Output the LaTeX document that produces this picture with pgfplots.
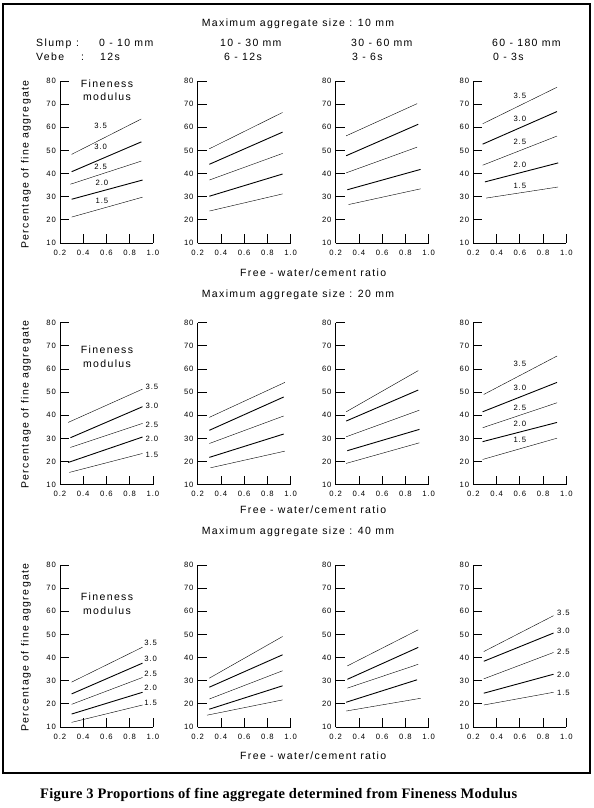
\documentclass[border=0pt]{standalone}
\usepackage{pgfplots}
\pgfplotsset{compat=1.18}
\usepackage{fontspec}
\setmainfont{Liberation Sans}
\newfontfamily\lab[LetterSpace=13]{Liberation Sans}
\newfontfamily\tck[LetterSpace=12]{Liberation Sans}
\newfontfamily\capf[LetterSpace=2]{Liberation Serif}
\newcommand{\Lf}{\lab\fontsize{10.5bp}{12bp}\selectfont}
\newcommand{\Tf}{\tck\fontsize{7.7bp}{8.5bp}\selectfont}
\tikzset{fm/.style={font=\Tf, inner sep=0pt}}
\pgfplotsset{
  panel/.style={
    scale only axis, width=93bp, height=162bp,
    xmin=0.2, xmax=1.0, ymin=10, ymax=80,
    axis x line=bottom, axis y line=left,
    axis line style={-, line width=0.9bp, black},
    tick align=inside, major tick length=9bp,
    tick style={line width=0.9bp, black},
    xtick={0.2,0.4,0.6,0.8,1}, xticklabels={0.2,0.4,0.6,0.8,1.0},
    ytick={10,20,30,40,50,60,70,80}, yticklabels={10,20,30,40,50,60,70,80},
    xticklabel style={font=\Tf, inner sep=0pt, yshift=-6.5bp},
    yticklabel style={font=\Tf, inner sep=0pt, xshift=-4bp},
    clip=false,
    cycle list={{black, line width=0.9bp}},
    no markers,
    anchor=south west,
  },
}
\begin{document}
\begin{tikzpicture}
\begin{scope}[x=1bp,y=1bp]
\path[use as bounding box] (0,0) rectangle (594,808);
\draw[line width=1.2bp] (3,35) rectangle (590,804);

% ---------- headers ----------
\node[anchor=base, font=\Lf] at (298,781.5) {Maximum aggregate size : 10 mm};
\node[anchor=base west, font=\Lf, inner sep=0pt] at (36,761.5) {Slump};
\node[anchor=base west, font=\Lf, inner sep=0pt] at (76,761.5) {:};
\node[anchor=base west, font=\Lf, inner sep=0pt] at (99,761.5) {0 - 10 mm};
\node[anchor=base west, font=\Lf, inner sep=0pt] at (36,747) {Vebe};
\node[anchor=base west, font=\Lf, inner sep=0pt] at (81,747) {:};
\node[anchor=base west, font=\Lf, inner sep=0pt] at (100,747) {12s};
\node[anchor=base west, font=\Lf, inner sep=0pt] at (220,761.5) {10 - 30 mm};
\node[anchor=base west, font=\Lf, inner sep=0pt] at (224,747) {6 - 12s};
\node[anchor=base west, font=\Lf, inner sep=0pt] at (351,761.5) {30 - 60 mm};
\node[anchor=base west, font=\Lf, inner sep=0pt] at (352,747) {3 - 6s};
\node[anchor=base west, font=\Lf, inner sep=0pt] at (492,761.5) {60 - 180 mm};
\node[anchor=base west, font=\Lf, inner sep=0pt] at (493,747) {0 - 3s};

\node[anchor=base, font=\Lf] at (298,510.5) {Maximum aggregate size : 20 mm};
\node[anchor=base, font=\Lf] at (298,273) {Maximum aggregate size : 40 mm};

\node[anchor=base west, font=\Lf, inner sep=0pt] at (240,531) {Free - water/cement ratio};
\node[anchor=base west, font=\Lf, inner sep=0pt] at (240,294) {Free - water/cement ratio};
\node[anchor=base west, font=\Lf, inner sep=0pt] at (240,48) {Free - water/cement ratio};

\node[rotate=90, font=\Lf] at (26,643.5) {Percentage of fine aggregate};
\node[rotate=90, font=\Lf] at (26,403.5) {Percentage of fine aggregate};
\node[rotate=90, font=\Lf] at (26,160.5) {Percentage of fine aggregate};

\node[anchor=base, font=\Lf] at (107,720.7) {Fineness};
\node[anchor=base, font=\Lf] at (107,707.3) {modulus};
\node[anchor=base, font=\Lf] at (107,454) {Fineness};
\node[anchor=base, font=\Lf] at (107,440.7) {modulus};
\node[anchor=base, font=\Lf] at (107,207) {Fineness};
\node[anchor=base, font=\Lf] at (107,193) {modulus};

\node[anchor=base west, inner sep=0pt, font={\capf\bfseries\fontsize{14.5bp}{16bp}\selectfont}] at (40,9) {Figure 3 Proportions of fine aggregate determined from Fineness Modulus};
\end{scope}

% ---------- row 1: 10 mm ----------
\begin{axis}[panel, at={(60bp,565bp)}]
\addplot coordinates {(0.3,48.3) (0.9,63.6)};
\addplot coordinates {(0.3,40.8) (0.9,53.7)};
\addplot coordinates {(0.29,35.4) (0.9,45.4)};
\addplot coordinates {(0.3,28.9) (0.91,37.2)};
\addplot coordinates {(0.3,21.2) (0.91,29.8)};
\node[fm] at (axis cs:0.55,60.5) {3.5};
\node[fm] at (axis cs:0.55,51.6) {3.0};
\node[fm] at (axis cs:0.55,43.0) {2.5};
\node[fm] at (axis cs:0.56,36.1) {2.0};
\node[fm] at (axis cs:0.56,28.2) {1.5};
\end{axis}
\begin{axis}[panel, at={(197.7bp,565bp)}]
\addplot coordinates {(0.3,50.7) (0.93,66.4)};
\addplot coordinates {(0.3,44.0) (0.93,57.9)};
\addplot coordinates {(0.3,37.2) (0.93,48.7)};
\addplot coordinates {(0.3,30.2) (0.93,39.8)};
\addplot coordinates {(0.3,23.8) (0.93,31.2)};
\end{axis}
\begin{axis}[panel, at={(335.7bp,565bp)}]
\addplot coordinates {(0.29,56.3) (0.9,70.2)};
\addplot coordinates {(0.29,47.7) (0.91,61.3)};
\addplot coordinates {(0.29,40.3) (0.9,51.4)};
\addplot coordinates {(0.3,33.0) (0.93,41.8)};
\addplot coordinates {(0.31,26.6) (0.93,33.4)};
\end{axis}
\begin{axis}[panel, at={(473.3bp,565bp)}]
\addplot coordinates {(0.28,61.5) (0.92,77.3)};
\addplot coordinates {(0.28,52.7) (0.92,66.8)};
\addplot coordinates {(0.28,43.6) (0.92,56.2)};
\addplot coordinates {(0.3,36.4) (0.93,44.6)};
\addplot coordinates {(0.31,29.4) (0.93,34.2)};
\node[fm] at (axis cs:0.6,73.5) {3.5};
\node[fm] at (axis cs:0.6,63.5) {3.0};
\node[fm] at (axis cs:0.6,53.7) {2.5};
\node[fm] at (axis cs:0.6,43.7) {2.0};
\node[fm] at (axis cs:0.6,34.7) {1.5};
\end{axis}

% ---------- row 2: 20 mm ----------
\begin{axis}[panel, at={(60bp,323.3bp)}]
\addplot coordinates {(0.27,36.9) (0.91,51.3)};
\addplot coordinates {(0.29,30.3) (0.91,43.7)};
\addplot coordinates {(0.29,26.1) (0.91,36.5)};
\addplot coordinates {(0.27,19.6) (0.91,30.6)};
\addplot coordinates {(0.28,15.3) (0.91,23.5)};
\node[fm, anchor=west] at (axis cs:0.935,52.3) {3.5};
\node[fm, anchor=west] at (axis cs:0.935,44.0) {3.0};
\node[fm, anchor=west] at (axis cs:0.935,36.0) {2.5};
\node[fm, anchor=west] at (axis cs:0.935,29.7) {2.0};
\node[fm, anchor=west] at (axis cs:0.935,22.8) {1.5};
\end{axis}
\begin{axis}[panel, at={(197.7bp,323.3bp)}]
\addplot coordinates {(0.3,39.1) (0.95,54.2)};
\addplot coordinates {(0.3,33.5) (0.94,47.9)};
\addplot coordinates {(0.3,27.8) (0.94,39.7)};
\addplot coordinates {(0.3,21.8) (0.94,31.9)};
\addplot coordinates {(0.31,17.3) (0.95,24.5)};
\end{axis}
\begin{axis}[panel, at={(335.7bp,323.3bp)}]
\addplot coordinates {(0.29,41.5) (0.91,59.3)};
\addplot coordinates {(0.29,37.5) (0.91,50.9)};
\addplot coordinates {(0.29,30.7) (0.92,42.2)};
\addplot coordinates {(0.3,24.7) (0.92,33.9)};
\addplot coordinates {(0.29,19.2) (0.92,28.1)};
\end{axis}
\begin{axis}[panel, at={(473.3bp,323.3bp)}]
\addplot coordinates {(0.29,49.0) (0.92,65.6)};
\addplot coordinates {(0.28,41.5) (0.92,54.2)};
\addplot coordinates {(0.28,34.6) (0.92,45.4)};
\addplot coordinates {(0.28,28.6) (0.92,36.9)};
\addplot coordinates {(0.28,20.9) (0.92,30.1)};
\node[fm] at (axis cs:0.6,62.4) {3.5};
\node[fm] at (axis cs:0.6,52.0) {3.0};
\node[fm] at (axis cs:0.6,43.0) {2.5};
\node[fm] at (axis cs:0.6,36.5) {2.0};
\node[fm] at (axis cs:0.6,29.3) {1.5};
\end{axis}

% ---------- row 3: 40 mm ----------
\begin{axis}[panel, at={(60bp,81bp)}]
\addplot coordinates {(0.3,29.4) (0.91,44.5)};
\addplot coordinates {(0.3,24.3) (0.91,37.6)};
\addplot coordinates {(0.3,19.8) (0.91,31.4)};
\addplot coordinates {(0.3,15.6) (0.91,25.0)};
\addplot coordinates {(0.3,12.0) (0.91,19.5)};
\node[fm, anchor=west] at (axis cs:0.925,46.5) {3.5};
\node[fm, anchor=west] at (axis cs:0.925,39.3) {3.0};
\node[fm, anchor=west] at (axis cs:0.925,32.8) {2.5};
\node[fm, anchor=west] at (axis cs:0.925,26.8) {2.0};
\node[fm, anchor=west] at (axis cs:0.925,20.3) {1.5};
\end{axis}
\begin{axis}[panel, at={(197.7bp,81bp)}]
\addplot coordinates {(0.3,31.1) (0.93,49.1)};
\addplot coordinates {(0.3,27.2) (0.93,41.2)};
\addplot coordinates {(0.3,22.1) (0.93,34.3)};
\addplot coordinates {(0.3,17.7) (0.93,27.8)};
\addplot coordinates {(0.28,15.1) (0.93,21.7)};
\end{axis}
\begin{axis}[panel, at={(335.7bp,81bp)}]
\addplot coordinates {(0.3,36.4) (0.91,52.0)};
\addplot coordinates {(0.3,30.6) (0.91,44.4)};
\addplot coordinates {(0.3,26.8) (0.91,37.1)};
\addplot coordinates {(0.29,20.7) (0.9,30.4)};
\addplot coordinates {(0.29,16.9) (0.93,22.4)};
\end{axis}
\begin{axis}[panel, at={(473.3bp,81bp)}]
\addplot coordinates {(0.29,42.6) (0.89,58.1)};
\addplot coordinates {(0.29,38.4) (0.89,50.6)};
\addplot coordinates {(0.29,30.8) (0.89,42.2)};
\addplot coordinates {(0.29,24.6) (0.89,32.8)};
\addplot coordinates {(0.29,19.5) (0.89,25.0)};
\node[fm, anchor=west] at (axis cs:0.92,59.2) {3.5};
\node[fm, anchor=west] at (axis cs:0.92,51.7) {3.0};
\node[fm, anchor=west] at (axis cs:0.92,42.3) {2.5};
\node[fm, anchor=west] at (axis cs:0.92,32.5) {2.0};
\node[fm, anchor=west] at (axis cs:0.92,24.9) {1.5};
\end{axis}
\end{tikzpicture}
\end{document}
